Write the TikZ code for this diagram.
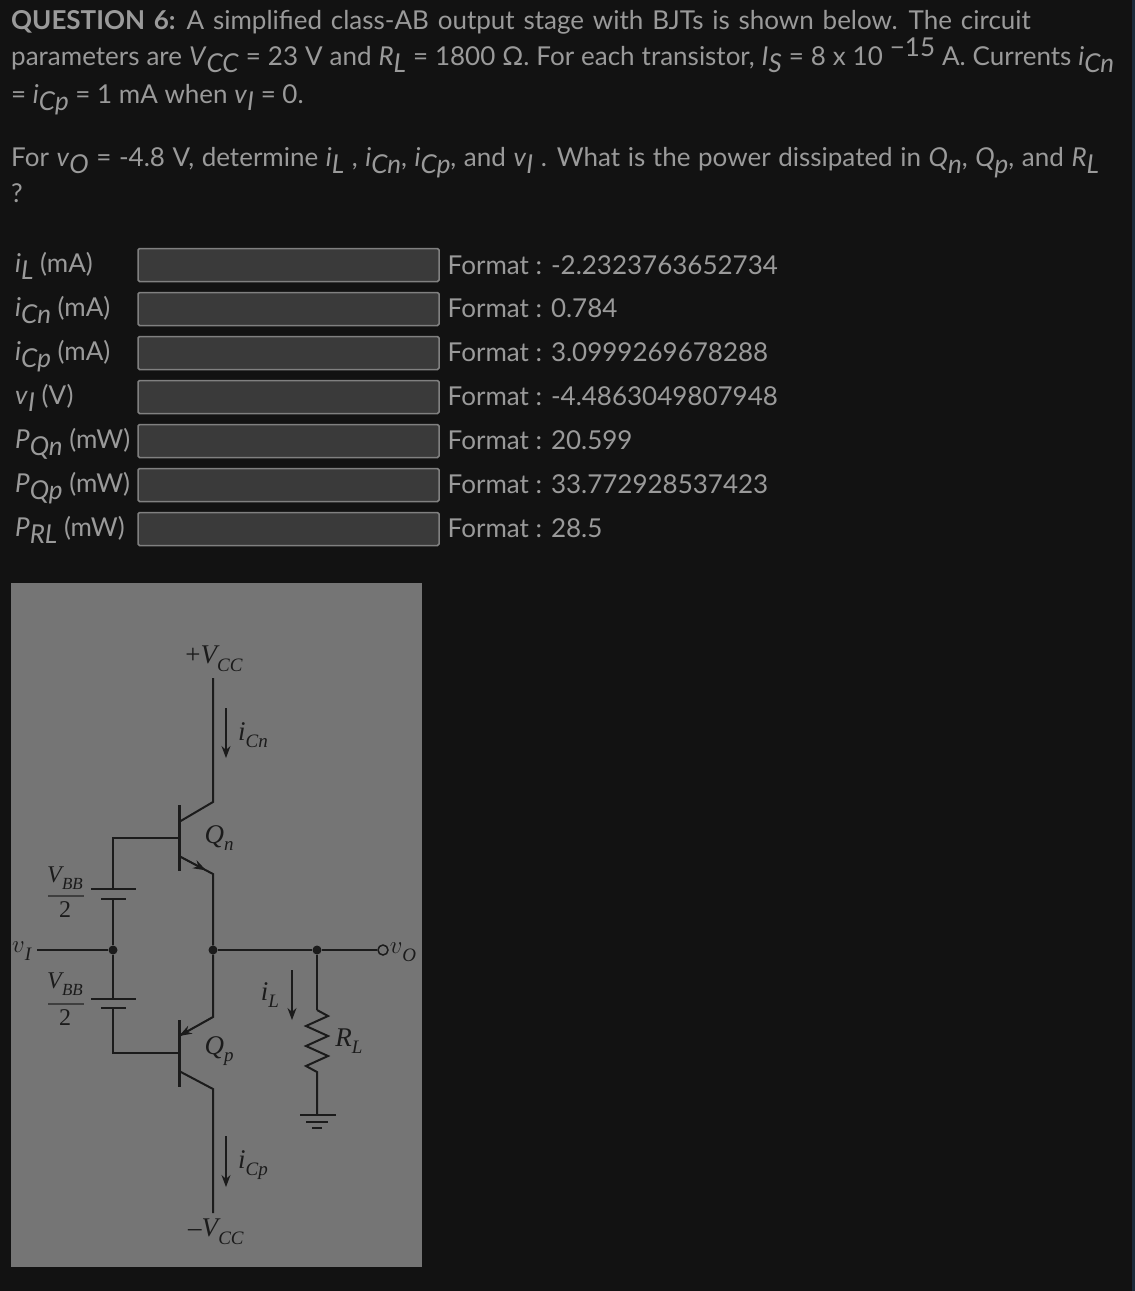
\documentclass[tikz,border=0pt]{standalone}
\usepackage{fontspec}
\setmainfont{Lato}
\newfontfamily\circfont{Liberation Serif}
\usetikzlibrary{arrows.meta}
\definecolor{pagebg}{HTML}{121212}
\definecolor{txt}{HTML}{9A9A9A}
\definecolor{boxfill}{HTML}{3A3A3A}
\definecolor{boxline}{HTML}{808080}
\definecolor{figbg}{HTML}{757575}
\definecolor{ink}{HTML}{1B1B1B}
\definecolor{scrollbar}{HTML}{1C2B3A}
\newcommand{\sbs}[1]{\raisebox{-0.3em}{\textit{#1}}}
\newcommand{\csb}[1]{\raisebox{-0.28em}{\fontsize{19}{20}\selectfont\textit{#1}}}
\newcommand{\vsb}[1]{\textit{V}\kern-2.5pt\csb{#1}}
\newcommand{\fsb}[1]{\textit{V}\kern-2pt\raisebox{-0.28em}{\fontsize{17}{18}\selectfont\textit{#1}}}
\newcommand{\wsp}[1]{\spaceskip=#1pt\relax}
\tikzset{
  para/.style={anchor=base west,inner sep=0pt,text=txt,font=\fontsize{26}{30}\selectfont},
  entry/.style={draw=boxline,fill=boxfill,line width=1.5pt,rounded corners=1.5pt,minimum width=301pt,minimum height=33pt,inner sep=0pt},
  wire/.style={draw=ink,line width=2pt},
  thin wire/.style={draw=ink,line width=1.6pt},
  plate/.style={draw=ink,line width=2.4pt},
  cur/.style={draw=ink,line width=1.2pt,-{Stealth[length=12pt,width=9pt]}},
  dot/.style={circle,fill=ink,inner sep=0pt,minimum size=9pt},
  lab/.style={inner sep=0pt,text=ink,font=\circfont\fontsize{27}{28}\selectfont},
  fraclab/.style={inner sep=0pt,text=ink,font=\circfont\fontsize{24}{25}\selectfont},
  fracbar/.style={draw=ink,opacity=.6,line width=1.2pt},
}
\begin{document}
\begin{tikzpicture}[x=1pt,y=-1pt]
\useasboundingbox (0,0) rectangle (1135,1291);
\fill[pagebg] (0,0) rectangle (1135,1291);
\fill[scrollbar] (1132,0) rectangle (1135,1291);
% question text
\node[para] (l1) at (11,29) {\wsp{8.8}\textbf{QUESTION 6:} A simplified class-AB output stage with BJTs is shown below. The circuit};
\node[para] (l2) at (11,65) {\wsp{6.95}parameters are \textit{V}\sbs{CC} = 23 V and \textit{R}\sbs{L} = 1800 Ω. For each transistor, \textit{I}\sbs{S} = 8 x 10 \raisebox{0.33em}{−15} A. Currents \textit{i}\sbs{Cn}};
\node[para] (l3) at (11,103) {= \textit{i}\sbs{Cp} = 1 mA when \textit{v}\sbs{I} = 0.};
\node[para] (l4) at (11,166) {\wsp{7.6}For \textit{v}\sbs{O} = -4.8 V, determine \textit{i}\sbs{L} , \textit{i}\sbs{Cn}, \textit{i}\sbs{Cp}, and \textit{v}\sbs{I} . What is the power dissipated in \textit{Q}\sbs{n}, \textit{Q}\sbs{p}, and \textit{R}\sbs{L}};
\node[para] (l5) at (11,202) {?};
% answer rows
\node[para] (a1) at (15,272) {\textit{i}\sbs{L} (mA)};
\node[para] (a2) at (15,316) {\textit{i}\sbs{Cn} (mA)};
\node[para] (a3) at (15,360) {\textit{i}\sbs{Cp} (mA)};
\node[para] (a4) at (15,404) {\textit{v}\sbs{I} (V)};
\node[para] (a5) at (15,448) {\textit{P}\sbs{Qn} (mW)};
\node[para] (a6) at (15,492) {\textit{P}\sbs{Qp} (mW)};
\node[para] (a7) at (15,536) {\textit{P}\sbs{RL} (mW)};
\node[entry] (b1) at (288.5,265) {};
\node[entry] (b2) at (288.5,309) {};
\node[entry] (b3) at (288.5,353) {};
\node[entry] (b4) at (288.5,397) {};
\node[entry] (b5) at (288.5,441) {};
\node[entry] (b6) at (288.5,485) {};
\node[entry] (b7) at (288.5,529) {};
\node[para] (f1) at (447.5,274) {Format : -2.2323763652734};
\node[para] (f2) at (447.5,317) {Format : 0.784};
\node[para] (f3) at (447.5,361) {Format : 3.0999269678288};
\node[para] (f4) at (447.5,405) {Format : -4.4863049807948};
\node[para] (f5) at (447.5,449) {Format : 20.599};
\node[para] (f6) at (447.5,493) {Format : 33.772928537423};
\node[para] (f7) at (447.5,537) {Format : 28.5};
% figure panel
\fill[figbg] (11,583) rectangle (422,1267);
% circuit points
\coordinate (vcc) at (213,678);
\coordinate (cn) at (213,802);
\coordinate (bnc) at (179,822);
\coordinate (bne) at (179,856);
\coordinate (en) at (213,874);
\coordinate (bn) at (179,838);
\coordinate (cornN) at (113,838);
\coordinate (bat1a) at (113,889);
\coordinate (bat1b) at (113,899);
\coordinate (vistart) at (37,950);
\node[dot] (jI) at (113,950) {};
\node[dot] (jE) at (213,950) {};
\node[dot] (jO) at (317,950) {};
\node[circle,draw=ink,line width=1.5pt,inner sep=0pt,minimum size=10pt] (out) at (383,950) {};
\coordinate (bat2a) at (113,999);
\coordinate (bat2b) at (113,1008);
\coordinate (cornP) at (113,1053);
\coordinate (bp) at (179,1053);
\coordinate (ep) at (213,1017);
\coordinate (bpe) at (179,1036);
\coordinate (bpc) at (179,1071);
\coordinate (cp) at (213,1089);
\coordinate (vee) at (213,1213);
\coordinate (r1) at (317,1010);
\coordinate (r2) at (317,1072);
\coordinate (gnd) at (317,1115);
% wires
\draw[wire] (vcc) -- (cn) -- (bnc);
\draw[wire,line width=3pt] (179,805) -- (179,871);
\draw[wire] (bn) -- (cornN) -- (bat1a);
\draw[wire] (bne) -- (en) -- (jE);
\draw[ink,line width=1.4pt,-{Stealth[length=13pt,width=9pt]}] (bne) -- (206,870.3);
\draw[plate] (91,889) -- (136,889);
\draw[plate] (101,899) -- (126,899);
\draw[wire] (bat1b) -- (jI) -- (bat2a);
\draw[thin wire] (vistart) -- (jI);
\draw[plate] (91,999) -- (136,999);
\draw[plate] (101,1008) -- (126,1008);
\draw[wire] (bat2b) -- (cornP) -- (bp);
\draw[wire,line width=3pt] (179,1020) -- (179,1087);
\draw[wire] (jE) -- (ep) -- (bpe);
\draw[ink,line width=1.4pt,-{Stealth[length=13pt,width=9pt]}] (ep) -- (bpe);
\draw[wire] (bpc) -- (cp) -- (vee);
\draw[thin wire] (jE) -- (jO) -- (out);
\draw[wire] (jO) -- (r1);
\draw[wire] (r1) -- (328,1016) -- (306,1026) -- (328,1036) -- (306,1046) -- (328,1056) -- (306,1066) -- (r2) -- (gnd);
\draw[plate] (300,1115) -- (336,1115);
\draw[plate] (306,1122) -- (328,1122);
\draw[plate] (312,1128) -- (322,1128);
% current arrows
\draw[cur] (226,708) -- (226,758);
\draw[cur] (292,970) -- (292,1020);
\draw[cur] (226,1136) -- (226,1187);
% labels
\node[lab] (Lvcc) at (214,659) {+\vsb{CC}};
\node[lab] (Lic) at (253,735) {\textit{i}\csb{Cn}};
\node[lab] (Lqn) at (219,838) {\textit{Q}\csb{n}};
\node[lab] (Lvi) at (22,951) {$v$\csb{I}};
\node[lab] (Lvo) at (403,952) {$v$\csb{O}};
\node[lab] (Lil) at (270,995) {\textit{i}\csb{L}};
\node[lab] (Lrl) at (349,1041) {\textit{R}\csb{L}};
\node[lab] (Lqp) at (219,1051) {\textit{Q}\csb{p}};
\node[lab] (Lip) at (253,1165) {\textit{i}\csb{Cp}};
\node[lab] (Lvee) at (216,1232) {–\vsb{CC}};
\node[fraclab] (Ln1) at (65,878) {\fsb{BB}};
\draw[fracbar] (48,896) -- (84,896);
\node[fraclab] (Lt1) at (65,910) {2};
\node[fraclab] (Ln2) at (65,984) {\fsb{BB}};
\draw[fracbar] (48,1004) -- (84,1004);
\node[fraclab] (Lt2) at (65,1018) {2};
\end{tikzpicture}
\end{document}
